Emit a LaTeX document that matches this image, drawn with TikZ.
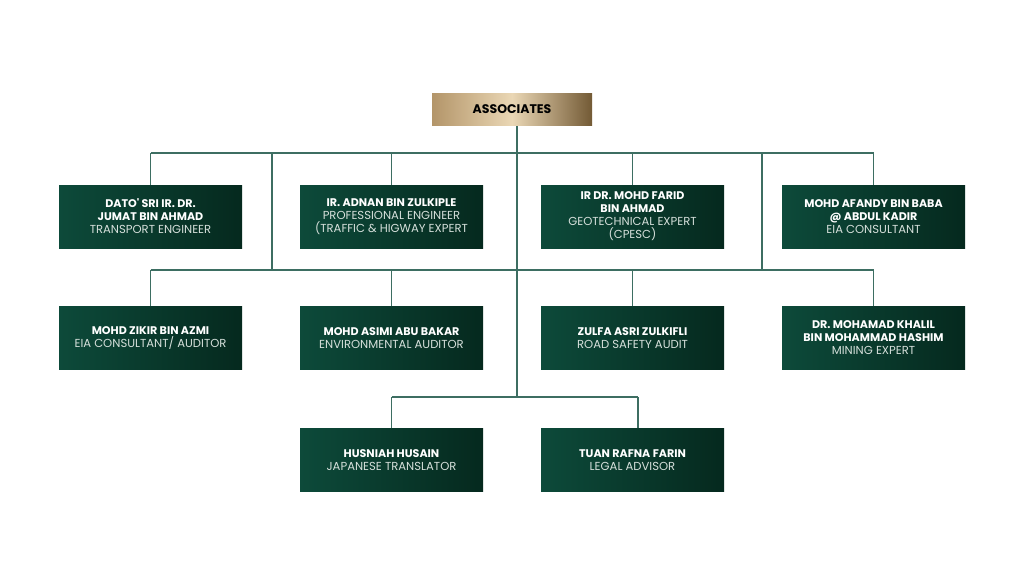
\documentclass[tikz,border=0pt]{standalone}
\usepackage{fontspec}
\setmainfont{Poppins}
\usepackage{xcolor}
\usetikzlibrary{positioning,calc}

\definecolor{boxleft}{HTML}{0D4A3A}
\definecolor{boxright}{HTML}{05291E}
\definecolor{linkcol}{HTML}{3D6E62}
\definecolor{goldleft}{HTML}{B39569}
\definecolor{goldmid}{HTML}{EAD7B5}
\definecolor{goldright}{HTML}{735A35}
\definecolor{rolecol}{HTML}{D5DFDA}

\tikzset{
    personbox/.style={rectangle, minimum width=183pt, minimum height=63pt,
        left color=boxleft, right color=boxright, text=white, align=center,
        font=\fontsize{11.1}{13}\selectfont, inner sep=0pt},
    rootbox/.style={rectangle, minimum width=160pt, minimum height=32pt,
        left color=goldleft, right color=goldright, middle color=goldmid,
        text=black, font=\fontsize{12.5}{14}\selectfont\bfseries, inner sep=0pt},
    link/.style={draw=linkcol, line width=1.2pt}
}
\newcommand{\role}[1]{{\fontsize{11.6}{13}\selectfont\color{rolecol}#1}}

\begin{document}
\begin{tikzpicture}[x=1pt,y=-1pt]
    \useasboundingbox (0,0) rectangle (1024,576);
    \fill[white] (0,0) rectangle (1024,576);

    % Lines first
    \coordinate (trunk) at (517,125);
    \coordinate (busA) at (517,153);
    \coordinate (busB) at (517,270);
    \coordinate (busC) at (517,397);

    \draw[link] (trunk) -- (busC);
    \draw[link] (150.5,153) -- (873.5,153);
    \draw[link] (272,153) -- (272,270);
    \draw[link] (762,153) -- (762,270);
    \draw[link] (150.5,270) -- (873.5,270);
    \draw[link] (391.5,397) -- (638,397);

    % Root
    \node[rootbox] (root) at (512,109) {ASSOCIATES};

    % Row 1
    \node[personbox] (dato) at (150.5,216.5) {\textbf{DATO\textquotesingle{} SRI IR. DR.}\\\textbf{JUMAT BIN AHMAD}\\\role{TRANSPORT ENGINEER}};
    \node[personbox] (adnan) at (391.5,216.5) {\textbf{IR. ADNAN BIN ZULKIPLE}\\\role{PROFESSIONAL ENGINEER}\\\role{(TRAFFIC \& HIGWAY EXPERT}};
    \node[personbox] (farid) at (632.5,216.5) {\textbf{IR DR. MOHD FARID}\\\textbf{BIN AHMAD}\\\role{GEOTECHNICAL EXPERT}\\\role{(CPESC)}};
    \node[personbox] (afandy) at (873.5,216.5) {\textbf{MOHD AFANDY BIN BABA}\\\textbf{@ ABDUL KADIR}\\\role{EIA CONSULTANT}};

    % Row 2
    \node[personbox] (zikir) at (150.5,338) {\textbf{MOHD ZIKIR BIN AZMI}\\\role{EIA CONSULTANT/ AUDITOR}};
    \node[personbox] (asimi) at (391.5,338) {\textbf{MOHD ASIMI ABU BAKAR}\\\role{ENVIRONMENTAL AUDITOR}};
    \node[personbox] (zulfa) at (632.5,338) {\textbf{ZULFA ASRI ZULKIFLI}\\\role{ROAD SAFETY AUDIT}};
    \node[personbox] (khalil) at (873.5,338) {\textbf{DR. MOHAMAD KHALIL}\\\textbf{BIN MOHAMMAD HASHIM}\\\role{MINING EXPERT}};

    % Row 3
    \node[personbox] (husniah) at (391.5,460) {\textbf{HUSNIAH HUSAIN}\\\role{JAPANESE TRANSLATOR}};
    \node[personbox] (tuan) at (632.5,460) {\textbf{TUAN RAFNA FARIN}\\\role{LEGAL ADVISOR}};

    % Drops
    \foreach \p in {dato,adnan,farid,afandy}
        \draw[link] (\p.north) -- (\p.north |- busA);
    \foreach \p in {zikir,asimi,zulfa,khalil}
        \draw[link] (\p.north) -- (\p.north |- busB);
    \draw[link] (husniah.north) -- (husniah.north |- busC);
    \draw[link] ([xshift=5.5pt]tuan.north) -- ([xshift=5.5pt]tuan.north |- busC);
\end{tikzpicture}
\end{document}
